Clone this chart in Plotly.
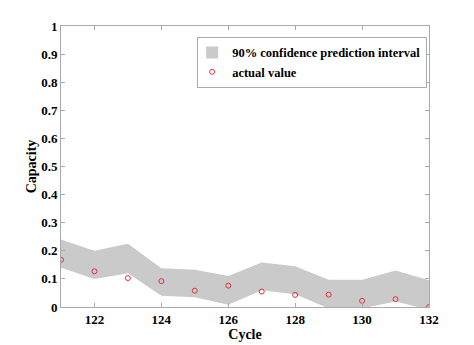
import plotly.graph_objects as go

cycles = [121, 122, 123, 124, 125, 126, 127, 128, 129, 130, 131, 132]
upper = [0.240, 0.200, 0.225, 0.138, 0.133, 0.110, 0.158, 0.145, 0.097, 0.097, 0.130, 0.095]
lower = [0.140, 0.100, 0.120, 0.040, 0.035, 0.008, 0.060, 0.045, -0.005, -0.005, 0.020, -0.010]
actual = [0.168, 0.127, 0.103, 0.092, 0.058, 0.076, 0.055, 0.043, 0.044, 0.022, 0.028, 0.000]

x_ticks = [122, 124, 126, 128, 130, 132]
y_ticks = [0, 0.1, 0.2, 0.3, 0.4, 0.5, 0.6, 0.7, 0.8, 0.9, 1]
y_labels = ["0", "0.1", "0.2", "0.3", "0.4", "0.5", "0.6", "0.7", "0.8", "0.9", "1"]

font = "Liberation Serif, Times New Roman, serif"
band_color = "#cacaca"

fig = go.Figure()
fig.add_trace(go.Scatter(x=cycles, y=lower, mode="lines", line=dict(width=0, color=band_color),
                         showlegend=False, hoverinfo="skip"))
fig.add_trace(go.Scatter(x=cycles, y=upper, mode="lines", line=dict(width=0, color=band_color),
                         fill="tonexty", fillcolor=band_color, showlegend=False,
                         legendgroup="band", name="90% confidence prediction interval"))
# legend swatch for the band (square box like the original)
fig.add_trace(go.Bar(x=[None], y=[None], marker=dict(color=band_color, line=dict(width=0)),
                     legendgroup="band", name="<b>90% confidence prediction interval</b>"))
fig.add_trace(go.Scatter(x=cycles, y=actual, mode="markers", name="<b>actual value</b>",
                         marker=dict(symbol="circle-open", color="#e0303c", size=5, line=dict(width=1))))

axis_common = dict(showline=True, linecolor="#aaaaaa", linewidth=1, mirror="ticks",
                   ticks="inside", ticklen=4, tickcolor="#aaaaaa", showgrid=False, zeroline=False,
                   automargin=False,
                   tickfont=dict(family=font, size=13, color="black"))

fig.update_xaxes(range=[121, 132], tickvals=x_ticks, ticktext=[f"<b>{t}</b>" for t in x_ticks],
                 title=dict(text="<b>Cycle</b>", font=dict(family=font, size=14, color="black"), standoff=2),
                 **axis_common)
fig.update_yaxes(range=[0, 1], tickvals=y_ticks, ticktext=[f"<b>{t}</b>" for t in y_labels],
                 title=dict(text="<b>Capacity</b>", font=dict(family=font, size=14, color="black"), standoff=1),
                 **axis_common)

fig.update_layout(
    width=474, height=345,
    margin=dict(l=61, r=45, t=26, b=38),
    paper_bgcolor="white", plot_bgcolor="white",
    font=dict(family=font, color="black"),
    legend=dict(x=0.995, y=0.961, xanchor="right", yanchor="top",
                bordercolor="#aaaaaa", borderwidth=1, bgcolor="white",
                font=dict(family=font, size=12.5, color="black"),
                traceorder="normal", tracegroupgap=0, itemwidth=30,
                indentation=-6),
)

fig.write_html("out.html")
